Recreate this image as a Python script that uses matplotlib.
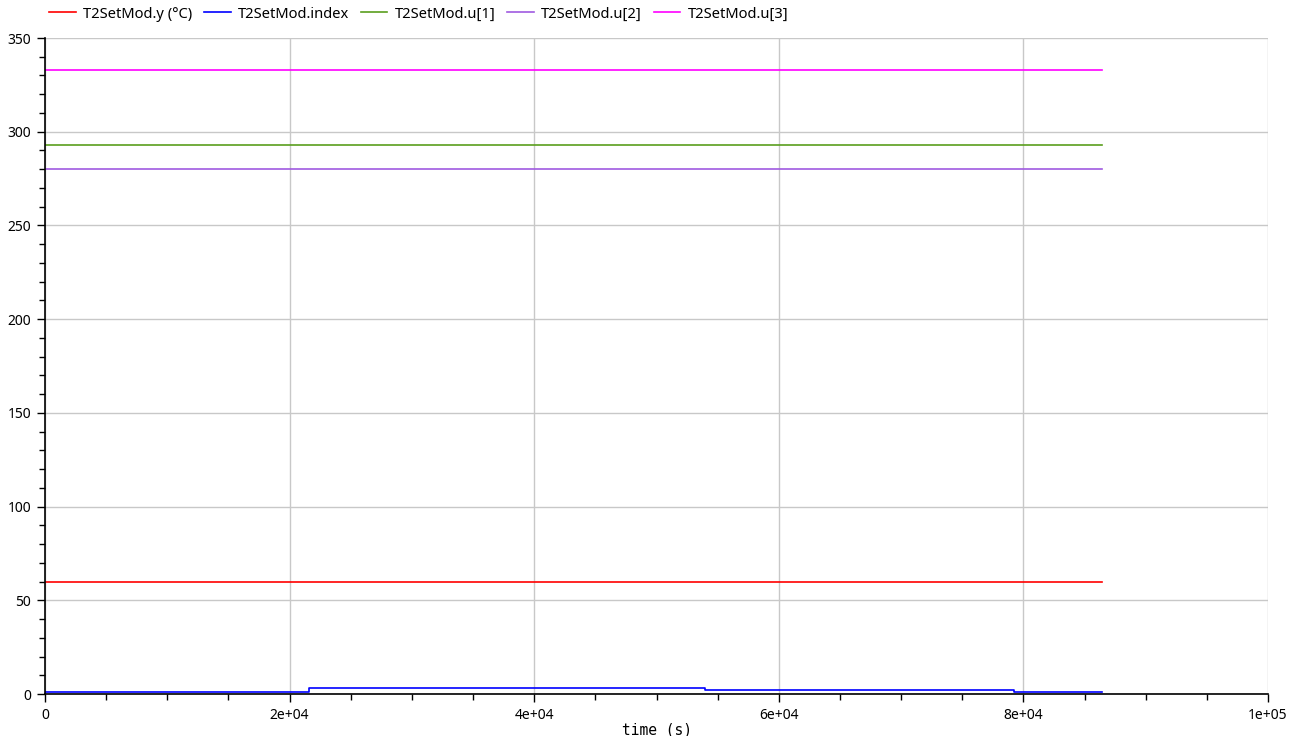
import numpy as np
import matplotlib
matplotlib.use('Agg')
import matplotlib.pyplot as plt
from matplotlib.ticker import MultipleLocator, FuncFormatter

plt.rcParams['font.family'] = ['Noto Sans', 'DejaVu Sans']

# simulation output (time in s)
t_const = [0, 86400]
y_degC = [60, 60]
u1 = [293.15, 293.15]
u2 = [280.15, 280.15]
u3 = [333.15, 333.15]

# index is a step signal
t_index = [0, 21600, 21600, 54000, 54000, 79200, 79200, 86400]
index = [1, 1, 3, 3, 2, 2, 1, 1]

labels = ['T2SetMod.y (°C)', 'T2SetMod.index', 'T2SetMod.u[1]',
          'T2SetMod.u[2]', 'T2SetMod.u[3]']
colors = ['#ff0000', '#0000ff', '#5a9e1e', '#a05ae0', '#ff00ff']

fig = plt.figure(figsize=(12.89, 7.36), dpi=100)
ax = fig.add_axes([45/1289, 1 - 694/736, (1268-45)/1289, (694-38)/736])

ax.plot(t_const, y_degC, color=colors[0], lw=1.2, label=labels[0])
ax.plot(t_index, index, color=colors[1], lw=1.2, label=labels[1])
ax.plot(t_const, u1, color=colors[2], lw=1.2, label=labels[2])
ax.plot(t_const, u2, color=colors[3], lw=1.2, label=labels[3])
ax.plot(t_const, u3, color=colors[4], lw=1.2, label=labels[4])

ax.set_xlim(0, 1e5)
ax.set_ylim(0, 350)
ax.xaxis.set_major_locator(MultipleLocator(20000))
ax.xaxis.set_minor_locator(MultipleLocator(5000))
ax.yaxis.set_major_locator(MultipleLocator(50))
ax.yaxis.set_minor_locator(MultipleLocator(10))

def sci(v, pos):
    if v == 0:
        return '0'
    return '%.0e' % v
ax.xaxis.set_major_formatter(FuncFormatter(sci))

ax.grid(True, which='major', color='#c8c8c8', lw=1)
ax.set_axisbelow(True)
for s in ['top', 'right']:
    ax.spines[s].set_visible(False)
ax.spines['left'].set_linewidth(1.2)
ax.spines['bottom'].set_linewidth(1.2)
ax.tick_params(which='major', length=6, width=1, labelsize=10, pad=4)
ax.tick_params(which='minor', length=4, width=1)
ax.set_xlabel('time (s)', family='DejaVu Sans Mono', fontsize=10.5, labelpad=0)

fig.legend(loc='upper left', bbox_to_anchor=(36/1289, 1.009), ncol=5,
           frameon=False, fontsize=10.6, handlelength=1.8, columnspacing=0.8,
           handletextpad=0.5)

fig.savefig('out.png', dpi=100)
